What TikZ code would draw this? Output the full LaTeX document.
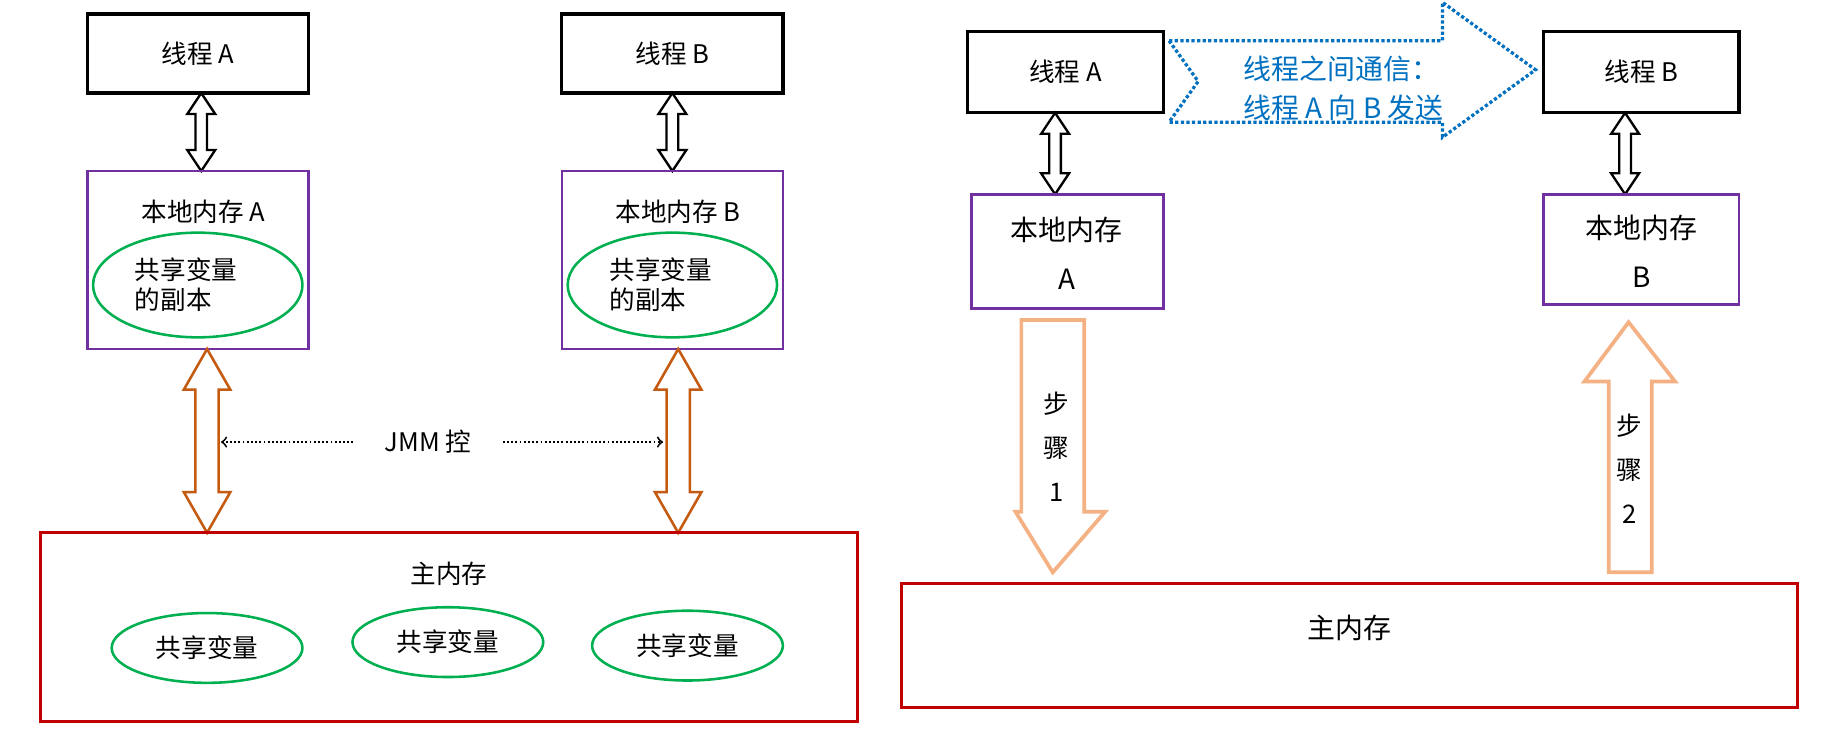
\documentclass[tikz,border=0pt]{standalone}
\usepackage{fontspec}
\setmainfont{Noto Sans CJK SC}
\begin{document}
\definecolor{pur}{RGB}{112,48,160}
\definecolor{gr}{RGB}{0,176,80}
\definecolor{rd}{RGB}{192,0,0}
\definecolor{orr}{RGB}{197,90,17}
\definecolor{org}{RGB}{244,177,131}
\definecolor{bl}{RGB}{0,112,192}
\newcommand\dblarr[7]{% x, ytop, ybot, halfbody, halfhead, headlen, style
  \draw[#7] (#1-#4,#2+#6) -- (#1-#5,#2+#6) -- (#1,#2) -- (#1+#5,#2+#6) -- (#1+#4,#2+#6)
   -- (#1+#4,#3-#6) -- (#1+#5,#3-#6) -- (#1,#3) -- (#1-#5,#3-#6) -- (#1-#4,#3-#6) -- cycle;}
\begin{tikzpicture}[x=0.5pt,y=-0.5pt,font=\fontsize{11}{13}\selectfont,
  thr/.style={draw,line width=1.4pt},
  loc/.style={draw=pur,line width=1.1pt},
  ell/.style={draw=gr,line width=1.1pt},
  mm/.style={draw=rd,line width=1.3pt},
  blk/.style={draw,line width=1pt,fill=white},
  ora/.style={draw=orr,line width=1.1pt,fill=white}]
\useasboundingbox (0,0) rectangle (1568,626);
% ---- left
\draw[thr] (75,12) rectangle (265,80); \node (tA) at (170,46) {线程 A};
\draw[thr] (483,12) rectangle (673,80); \node (tB) at (578,46) {线程 B};
\dblarr{173}{80}{147}{5}{12}{18}{blk}
\dblarr{578}{80}{147}{5}{12}{18}{blk}
\draw[loc] (75,147) rectangle (265,300); \node (lA) at (175,182) {本地内存 A};
\draw[loc] (483,147) rectangle (673,300); \node (lB) at (583,182) {本地内存 B};
\draw[ell] (170,245) ellipse (90 and 45); \node[align=left] (eA) at (160,245) {共享变量\\的副本};
\draw[ell] (578,245) ellipse (90 and 45); \node[align=left] (eB) at (568,245) {共享变量\\的副本};
\dblarr{178}{300}{458}{10}{20}{35}{ora}
\dblarr{583}{300}{458}{10}{20}{35}{ora}
\node (jmm) at (368,380) {JMM 控};
\coordinate (jl) at (190,380); \coordinate (jr) at (570,380);
\draw[densely dotted,->,line width=0.8pt] (jmm.west) ++(-20,0) -- (jl);
\draw[densely dotted,->,line width=0.8pt] (jmm.east) ++(20,0) -- (jr);
\draw[mm] (35,458) rectangle (737,620); \node (mL) at (386,493) {主内存};
\foreach \x/\y [count=\i] in {178/557,385/552,591/555}{
  \draw[ell] (\x,\y) ellipse (82 and 30); \node (s\i) at (\x,\y) {共享变量};}
% ---- right
\draw[thr] (832,27) rectangle (1000,97); \node (rA) at (916,62) {线程 A};
\draw[thr] (1327,27) rectangle (1495,97); \node (rB) at (1411,62) {线程 B};
\draw[bl,densely dotted,line width=1.4pt] (1005,35) -- (1240,35) -- (1240,2) -- (1320,60) -- (1240,118) -- (1240,105) -- (1005,105) -- (1030,70) -- cycle;
\node[bl,align=left,font=\fontsize{12}{17}\selectfont] (msg) at (1155,76) {线程之间通信：\\线程 A 向 B 发送};
\dblarr{907}{97}{167}{5}{12}{18}{blk}
\dblarr{1397}{97}{167}{5}{12}{18}{blk}
\draw[loc] (835,167) rectangle (1000,265);
\node[align=center,font=\fontsize{12}{21}\selectfont] (rlA) at (917,218) {本地内存\\A};
\draw[loc] (1327,167) rectangle (1495,262);
\node[align=center,font=\fontsize{12}{21}\selectfont] (rlB) at (1411,216) {本地内存\\B};
\draw[draw=org,line width=1.6pt,fill=white] (878,275) -- (932,275) -- (932,440) -- (950,440) -- (905,492) -- (873,440) -- (878,440) -- cycle;
\node[align=center,font=\fontsize{11}{19}\selectfont] (st1) at (908,384) {步\\骤\\1};
\draw[draw=org,line width=1.6pt,fill=white] (1383,492) -- (1420,492) -- (1420,328) -- (1440,328) -- (1400,277) -- (1362,328) -- (1383,328) -- cycle;
\node[align=center,font=\fontsize{11}{19}\selectfont] (st2) at (1401,403) {步\\骤\\2};
\draw[mm] (775,502) rectangle (1545,608); \node[font=\fontsize{12}{14}\selectfont] (mR) at (1160,540) {主内存};
\end{tikzpicture}
\end{document}
